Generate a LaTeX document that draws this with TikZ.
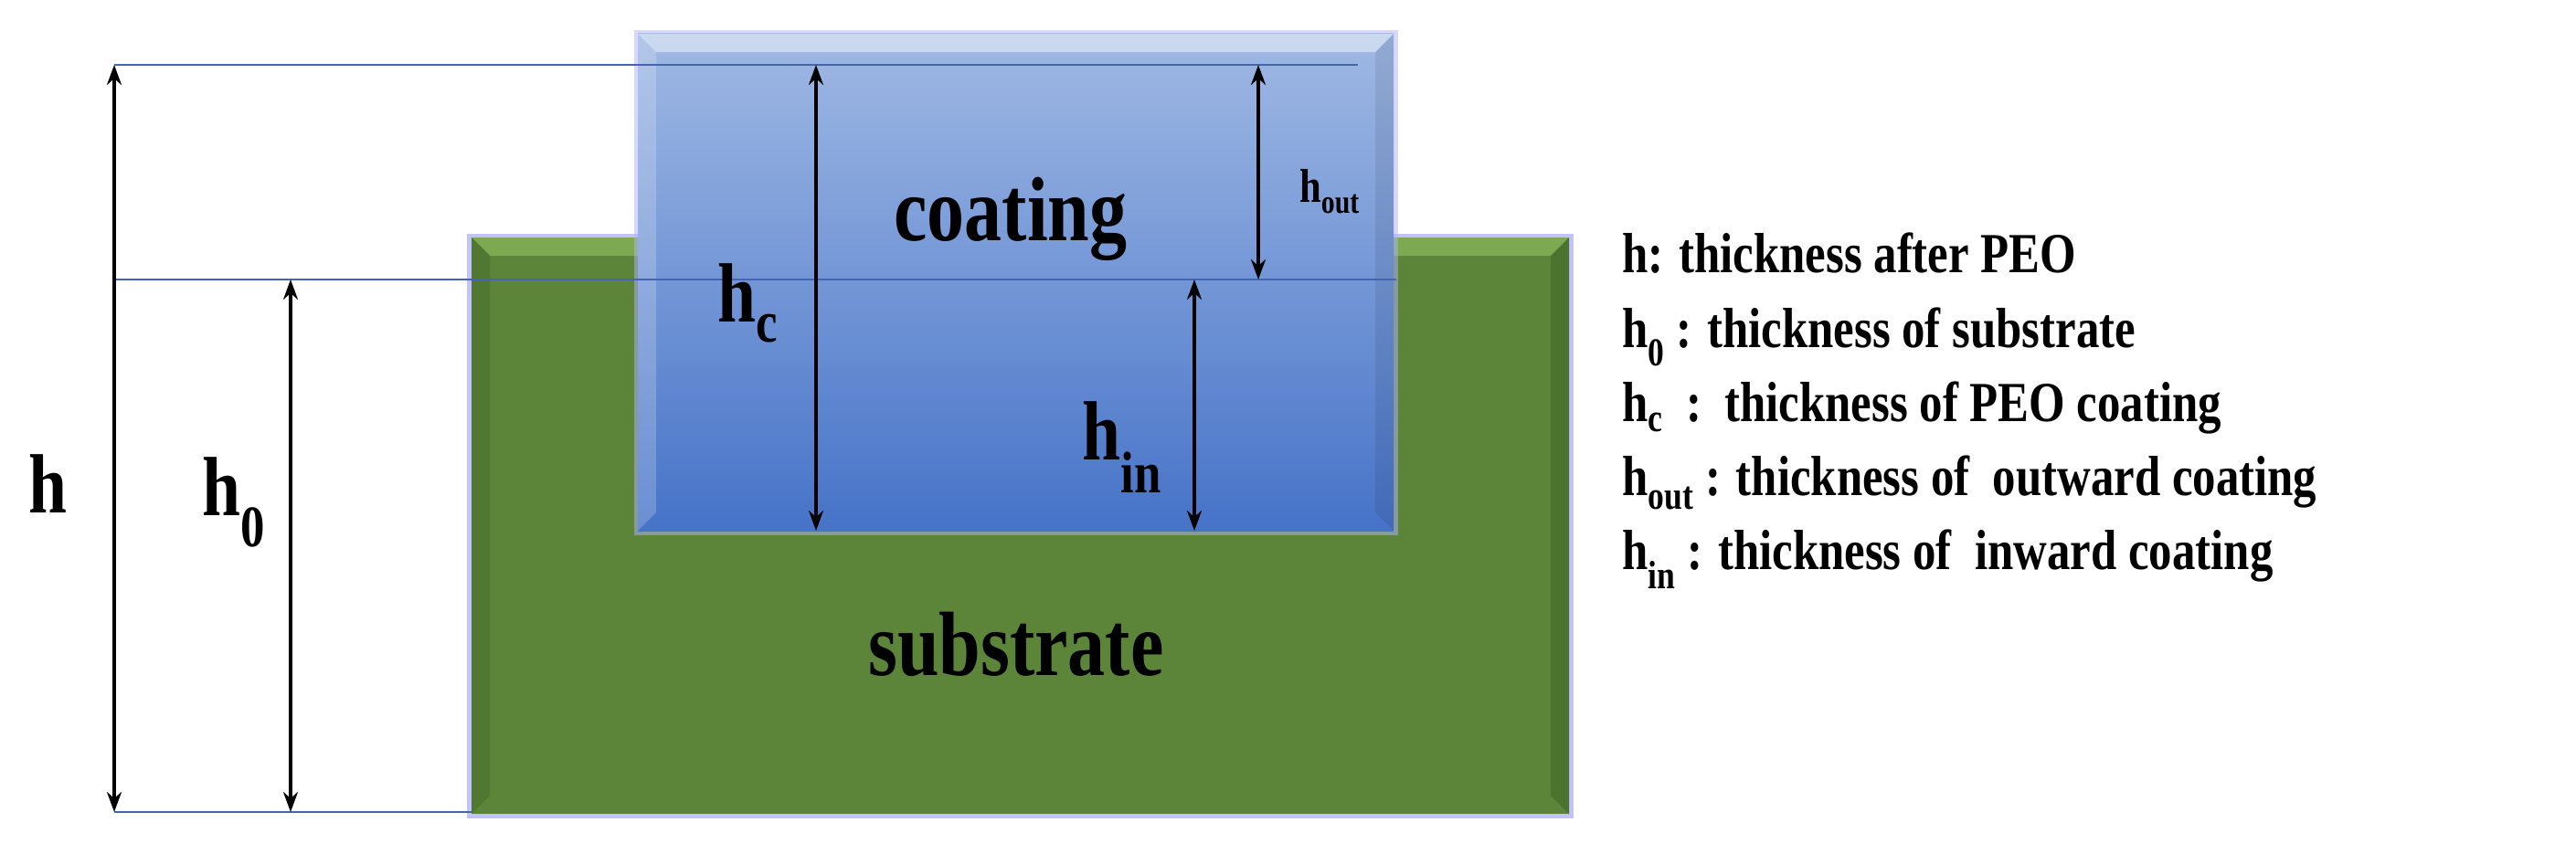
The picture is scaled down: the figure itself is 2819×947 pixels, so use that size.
\documentclass[tikz,border=0pt]{standalone}
\usepackage{fontspec}
\setmainfont{Liberation Serif}
\tikzset{
  dim/.style={black, line width=4.5pt, {Stealth[length=22pt,width=16pt]}-{Stealth[length=22pt,width=16pt]}},
  guide/.style={draw={rgb,255:red,68;green,100;blue,180}, line width=2.5pt},
  lbl/.style={font=\bfseries, inner sep=0pt},
  leg/.style={font=\fontsize{62}{62}\selectfont\bfseries, anchor=base west, inner sep=0pt}
}
\usetikzlibrary{arrows.meta}
\newcommand{\cond}[1]{\scalebox{0.82}[1]{#1}}
\begin{document}
\begin{tikzpicture}[x=1pt,y=-1pt]
\useasboundingbox (0,0) rectangle (2819,947);
% substrate
\fill[blue!40!white, opacity=0.6] (511,256) rectangle (1722,896);
\fill[color={rgb,255:red,92;green,133;blue,58}] (516,260) rectangle (1717,891);
\fill[color={rgb,255:red,125;green,170;blue,80}] (516,260) -- (1717,260) -- (1697,280) -- (536,280) -- cycle;
\fill[color={rgb,255:red,75;green,115;blue,45}] (1717,260) -- (1717,891) -- (1697,871) -- (1697,280) -- cycle;
\fill[color={rgb,255:red,80;green,120;blue,50}] (516,260) -- (536,280) -- (536,871) -- (516,891) -- cycle;
% coating
\fill[blue!30!white, opacity=0.5] (694,33) rectangle (1530,586);
\shade[top color={rgb,255:red,160;green,185;blue,228}, bottom color={rgb,255:red,70;green,115;blue,200}] (698,37) rectangle (1525,581);
\fill[white, opacity=0.45] (698,37) -- (1525,37) -- (1505,57) -- (718,57) -- cycle;
\fill[white, opacity=0.2] (698,37) -- (718,57) -- (718,561) -- (698,581) -- cycle;
\fill[black, opacity=0.08] (1525,37) -- (1525,581) -- (1505,561) -- (1505,57) -- cycle;
% guide lines
\coordinate (t0) at (125,71); \coordinate (t1) at (1486,71);
\coordinate (m0) at (125,306); \coordinate (m1) at (1528,306);
\coordinate (b0) at (125,889); \coordinate (b1) at (516,889);
\draw[guide] (t0) -- (t1);
\draw[guide] (m0) -- (m1);
\draw[guide] (b0) -- (b1);
% arrows
\coordinate (ha) at (125,71); \coordinate (hb) at (125,889);
\coordinate (h0a) at (318,306); \coordinate (h0b) at (318,889);
\coordinate (hca) at (893,71); \coordinate (hcb) at (893,581);
\coordinate (hoa) at (1377,71); \coordinate (hob) at (1377,306);
\coordinate (hia) at (1307,306); \coordinate (hib) at (1307,581);
\draw[dim] (ha) -- (hb);
\draw[dim] (h0a) -- (h0b);
\draw[dim] (hca) -- (hcb);
\draw[dim] (hoa) -- (hob);
\draw[dim] (hia) -- (hib);
% labels
\node[lbl, font=\fontsize{92}{92}\selectfont\bfseries] (lh) at (52,530) {\cond{h}};
\node[lbl, font=\fontsize{92}{92}\selectfont\bfseries] (lh0) at (256,550) {\cond{h\textsubscript{0}}};
\node[lbl, font=\fontsize{92}{92}\selectfont\bfseries] (lhc) at (818,332) {\cond{h\textsubscript{c}}};
\node[lbl, font=\fontsize{52}{52}\selectfont\bfseries] (lho) at (1455,210) {\cond{h\textsubscript{out}}};
\node[lbl, font=\fontsize{92}{92}\selectfont\bfseries] (lhi) at (1228,490) {\cond{h\textsubscript{in}}};
\node[lbl, font=\fontsize{100}{100}\selectfont\bfseries] (coat) at (1106,240) {\cond{coating}};
\node[lbl, font=\fontsize{100}{100}\selectfont\bfseries] (sub) at (1112,705) {\cond{substrate}};
% legend
\node[leg] (l1) at (1775,298) {\cond{h: thickness after PEO}};
\node[leg] (l2) at (1775,380) {\cond{h\textsubscript{0} : thickness of substrate}};
\node[leg] (l3) at (1775,461) {\cond{h\textsubscript{c}\ \ :\ \ thickness of PEO coating}};
\node[leg] (l4) at (1775,542) {\cond{h\textsubscript{out} : thickness of\ \ outward coating}};
\node[leg] (l5) at (1775,623) {\cond{h\textsubscript{in} : thickness of\ \ inward coating}};
\end{tikzpicture}
\end{document}
